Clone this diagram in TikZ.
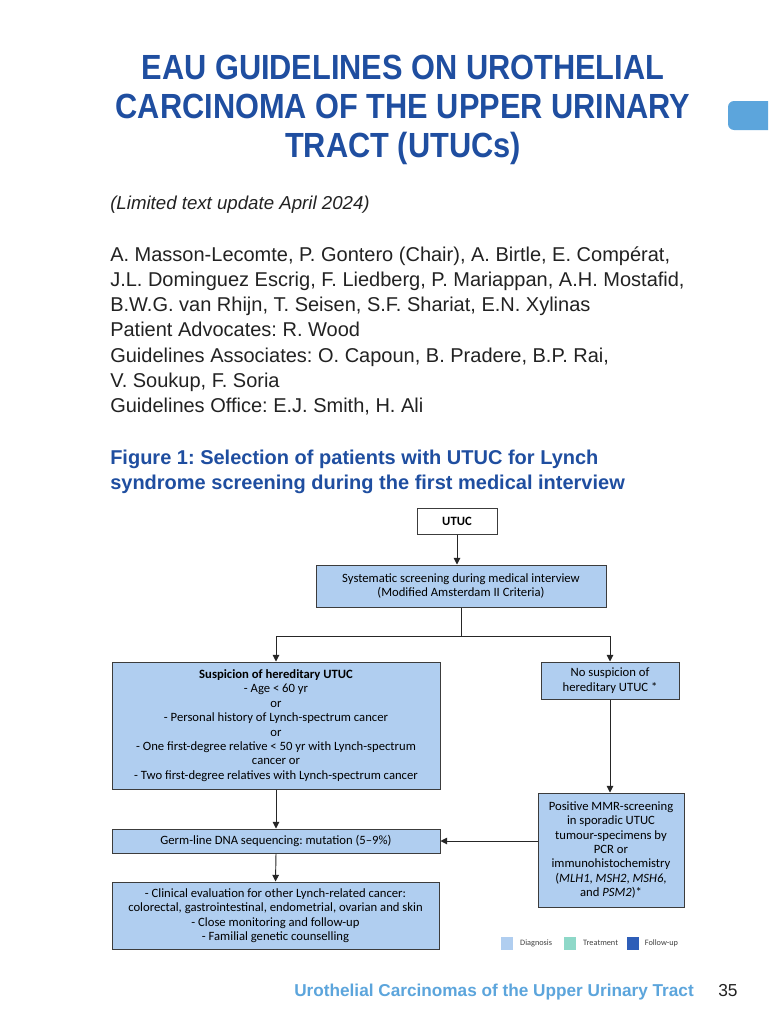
\documentclass[tikz,border=0pt]{standalone}
\usepackage{fontspec}
\setmainfont{Liberation Sans}
\newfontfamily\chartfont{Carlito}
\newfontfamily\titlefont[FakeStretch=0.88]{Liberation Sans}
\usetikzlibrary{arrows.meta,positioning}
\frenchspacing

\definecolor{eaublue}{RGB}{31,78,160}
\definecolor{eaulight}{RGB}{92,165,220}
\definecolor{diagfill}{RGB}{176,206,240}
\definecolor{treatfill}{RGB}{142,216,200}
\definecolor{followfill}{RGB}{46,94,184}
\definecolor{boxline}{RGB}{60,60,60}
\definecolor{bodytext}{RGB}{34,34,34}

\tikzset{
  chartbox/.style={draw=boxline, line width=0.75pt, fill=diagfill, align=center,
    inner sep=0pt, font=\chartfont\fontsize{9.5}{10.8}\selectfont},
  flow/.style={draw=black!85, line width=0.7pt, -{Triangle[length=5pt,width=5pt]}},
  plain/.style={draw=black!85, line width=0.7pt},
  legbox/.style={minimum width=9pt, minimum height=9.75pt, inner sep=0pt},
  legtext/.style={font=\chartfont\fontsize{6.2}{7}\selectfont, text=black!75,
    inner sep=0pt, anchor=west, text height=4.4pt, text depth=1.4pt},
  pagetext/.style={anchor=base west, inner sep=0pt}
}

\begin{document}
\begin{tikzpicture}[x=0.75pt, y=-0.75pt]
  \useasboundingbox (0,0) rectangle (768,1024);
  \fill[white] (0,0) rectangle (768,1024);
  \clip (0,0) rectangle (768,1024);

  % title
  \foreach \txt [count=\i] in {EAU GUIDELINES ON UROTHELIAL,
      CARCINOMA OF THE UPPER URINARY, TRACT (UTUCs)} {
    \node[anchor=base, inner sep=0pt, text=eaublue,
      font=\titlefont\bfseries\fontsize{26.2}{30}\selectfont]
      (title\i) at (403, {79.5 + (\i-1)*39}) {\txt};
  }
  \fill[eaulight, rounded corners=4.5pt] (728,101) rectangle (790,130);

  \node[pagetext, text=bodytext, font=\itshape\fontsize{14}{17}\selectfont]
    (update) at (110,209) {(Limited text update April 2024)};

  % authors
  \foreach \txt [count=\i] in {{A. Masson-Lecomte, P. Gontero (Chair), A. Birtle, E. Compérat,},
      {J.L. Dominguez Escrig, F. Liedberg, P. Mariappan, A.H. Mostafid,},
      {B.W.G. van Rhijn, T. Seisen, S.F. Shariat, E.N. Xylinas},
      {Patient Advocates: R. Wood},
      {Guidelines Associates: O. Capoun, B. Pradere, B.P. Rai,},
      {V. Soukup, F. Soria},
      {Guidelines Office: E.J. Smith, H. Ali}} {
    \node[pagetext, text=bodytext, font=\fontsize{15}{19}\selectfont]
      (author\i) at (110, {261 + (\i-1)*25.33}) {\txt};
  }

  % figure caption
  \node[pagetext, text=eaublue, font=\bfseries\fontsize{15}{19}\selectfont]
    (caption1) at (110,464) {Figure 1: Selection of patients with UTUC for Lynch};
  \node[pagetext, text=eaublue, font=\bfseries\fontsize{15}{19}\selectfont]
    (caption2) at (110,489) {syndrome screening during the first medical interview};

  % flowchart
  \node[chartbox, fill=white, minimum width=60pt, minimum height=19.5pt] (utuc)
    at (457,521) {\textbf{UTUC}};
  \node[chartbox, minimum width=217.5pt, minimum height=31.5pt] (screen)
    at (461,586) {Systematic screening during medical interview\\(Modified Amsterdam II Criteria)};
  \node[chartbox, minimum width=246pt, minimum height=95.25pt] (susp)
    at (276,725.5) {\textbf{Suspicion of hereditary UTUC}\\- Age < 60 yr\\or\\
      - Personal history of Lynch-spectrum cancer\\or\\
      - One first-degree relative < 50 yr with Lynch-spectrum\\cancer or\\
      - Two first-degree relatives with Lynch-spectrum cancer};
  \node[chartbox, minimum width=103.5pt, minimum height=27.75pt] (nosusp)
    at (610,680.5) {No suspicion of\\hereditary UTUC *};
  \node[chartbox, minimum width=109.5pt, minimum height=85.5pt] (pos)
    at (611,850) {Positive MMR-screening\\in sporadic UTUC\\tumour-specimens by\\PCR or\\
      immunohistochemistry\\(\textit{MLH1}, \textit{MSH2}, \textit{MSH6},\\and \textit{PSM2})*};
  \node[chartbox, minimum width=246pt, minimum height=18pt] (germ)
    at (276,841) {Germ-line DNA sequencing: mutation (5–9\%)};
  \node[chartbox, minimum width=245.25pt, minimum height=50.25pt] (clin)
    at (275.5,915.5) {- Clinical evaluation for other Lynch-related cancer:\\
      colorectal, gastrointestinal, endometrial, ovarian and skin\\
      - Close monitoring and follow-up\\- Familial genetic counselling};

  \draw[flow] (utuc.south) -- (utuc.south |- screen.north);
  \draw[plain] (screen.south) -- ++(0,29) coordinate (split);
  \draw[flow] (split) -| (susp.north);
  \draw[flow] (split) -| (nosusp.north);
  \draw[flow] (nosusp.south) -- (nosusp.south |- pos.north);
  \draw[flow] (susp.south) -- (germ.north);
  \draw[flow] (germ.east -| pos.west) -- (germ.east);
  \draw[flow] (germ.south) -- (clin.north);

  % legend
  \node[legbox, fill=diagfill] (legdiag) at (507,943.5) {};
  \node[legtext, right=5pt of legdiag] (legdiagtxt) {Diagnosis};
  \node[legbox, fill=treatfill] (legtreat) at (570,943.5) {};
  \node[legtext, right=5pt of legtreat] (legtreattxt) {Treatment};
  \node[legbox, fill=followfill] (legfollow) at (633,943.5) {};
  \node[legtext, right=4pt of legfollow] (legfollowtxt) {Follow-up};

  % footer
  \node[pagetext, text=eaulight, font=\bfseries\fontsize{12.9}{16}\selectfont]
    (footer) at (294,996) {Urothelial Carcinomas of the Upper Urinary Tract};
  \node[pagetext, text=bodytext, font=\fontsize{13}{16}\selectfont]
    (pagenum) at (718,996) {35};
\end{tikzpicture}
\end{document}
